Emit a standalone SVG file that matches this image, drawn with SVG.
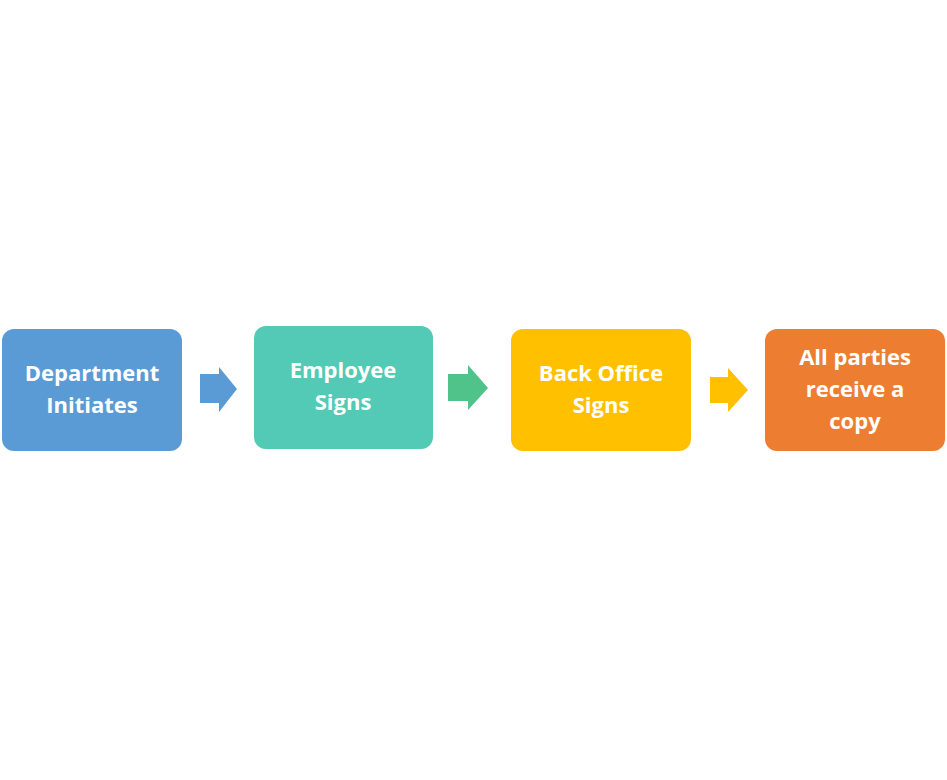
<svg xmlns="http://www.w3.org/2000/svg" width="947" height="780" viewBox="0 0 947 780">
<style>
text{font-family:"Open Sans","Liberation Sans",sans-serif;font-weight:bold;font-size:22px;fill:#fff;text-anchor:middle}
</style>
<rect width="947" height="780" fill="#fff"/>
<g id="n1"><rect x="2" y="329" width="180" height="122" rx="12" fill="#5b9bd5"/><text x="92" y="381">Department</text><text x="92" y="413">Initiates</text></g>
<g id="n2"><rect x="254" y="326" width="179" height="123" rx="12" fill="#53cab6"/><text x="343" y="378">Employee</text><text x="343" y="410">Signs</text></g>
<g id="n3"><rect x="511" y="329" width="180" height="122" rx="12" fill="#ffc000"/><text x="601" y="381">Back Office</text><text x="601" y="413">Signs</text></g>
<g id="n4"><rect x="765" y="329" width="180" height="122" rx="12" fill="#ed7d31"/><text x="855" y="365">All parties</text><text x="855" y="397">receive a</text><text x="855" y="429">copy</text></g>
<g id="connectors">
<polygon points="200,374 219,374 219,367 237,389 219,412 219,403 200,403" fill="#5b9bd5"/>
<polygon points="448,374 468,374 468,365 488,388 468,410 468,401 448,401" fill="#4fc38a"/>
<polygon points="710,377 728,377 728,368 748,390 728,412 728,403 710,403" fill="#ffc000"/>
</g>
</svg>
